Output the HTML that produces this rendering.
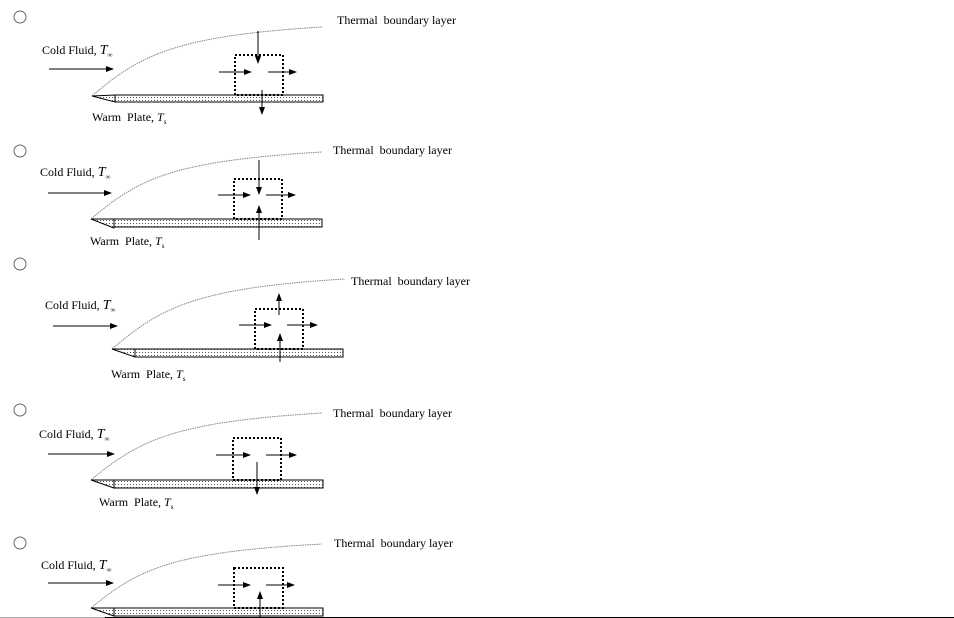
<!DOCTYPE html>
<html><head><meta charset="utf-8"><style>
html,body{margin:0;padding:0;background:#fff;}
svg{display:block;}
text{font-family:"Liberation Serif",serif;font-size:12px;fill:#000;}
</style></head><body>
<svg width="954" height="618" viewBox="0 0 954 618" xmlns="http://www.w3.org/2000/svg">
<defs>
<pattern id="dots" width="3" height="3" patternUnits="userSpaceOnUse"><rect width="3" height="3" fill="#fff"/><rect x="1" y="1" width="1" height="1" fill="#555"/></pattern>
<marker id="ah" markerWidth="8" markerHeight="8" refX="7" refY="4" orient="auto" markerUnits="userSpaceOnUse"><path d="M0,1 L8,4 L0,7 Z" fill="#000"/></marker>
</defs>
<g fill="none" stroke="#000" stroke-width="1">
<circle cx="20" cy="17" r="6" stroke="#666"/>
<circle cx="20" cy="151" r="6" stroke="#666"/>
<circle cx="20" cy="264" r="6" stroke="#666"/>
<circle cx="20" cy="410" r="6" stroke="#666"/>
<circle cx="20" cy="543" r="6" stroke="#666"/>
</g>

<!-- Diagram 1 -->
<g stroke="#000" fill="none">
<path d="M92,96 C140,55 175,36 322,27" stroke="#888" stroke-dasharray="1.5,0.8"/>
<line x1="49" y1="69" x2="113" y2="69" marker-end="url(#ah)"/>
<path d="M92,96 L115,95 L115,102 Z" fill="url(#dots)"/>
<rect x="115" y="95" width="208" height="7" fill="url(#dots)"/>
<rect x="235" y="55" width="48" height="40" stroke-dasharray="2,2" stroke-width="2"/>
<line x1="258" y1="31" x2="258" y2="63" marker-end="url(#ah)"/>
<line x1="219" y1="72" x2="251" y2="72" marker-end="url(#ah)"/>
<line x1="268" y1="72" x2="296" y2="72" marker-end="url(#ah)"/>
<line x1="262" y1="90" x2="262" y2="114" marker-end="url(#ah)"/>
</g>
<text x="337" y="24">Thermal&#160; boundary layer</text>
<text x="42" y="54">Cold Fluid, <tspan font-style="italic" font-size="14">T</tspan><tspan font-size="7" dy="3">∞</tspan></text>
<text x="92" y="121">Warm&#160; Plate, <tspan font-style="italic">T</tspan><tspan font-size="7" dy="3">s</tspan></text>

<!-- Diagram 2 -->
<g stroke="#000" fill="none">
<path d="M91,219 C139,178 174,161 322,152" stroke="#888" stroke-dasharray="1.5,0.8"/>
<line x1="48" y1="193" x2="111" y2="193" marker-end="url(#ah)"/>
<path d="M91,219 L114,219 L114,228 Z" fill="url(#dots)"/>
<rect x="114" y="219" width="208" height="8" fill="url(#dots)"/>
<rect x="234" y="179" width="48" height="40" stroke-dasharray="2,2" stroke-width="2"/>
<line x1="259" y1="160" x2="259" y2="194" marker-end="url(#ah)"/>
<line x1="218" y1="195" x2="250" y2="195" marker-end="url(#ah)"/>
<line x1="266" y1="195" x2="295" y2="195" marker-end="url(#ah)"/>
<line x1="259" y1="240" x2="259" y2="206" marker-end="url(#ah)"/>
</g>
<text x="333" y="154">Thermal&#160; boundary layer</text>
<text x="40" y="176">Cold Fluid, <tspan font-style="italic" font-size="14">T</tspan><tspan font-size="7" dy="3">∞</tspan></text>
<text x="90" y="245">Warm&#160; Plate, <tspan font-style="italic">T</tspan><tspan font-size="7" dy="3">s</tspan></text>

<!-- Diagram 3 -->
<g stroke="#000" fill="none">
<path d="M112,349 C160,308 195,288 345,279" stroke="#888" stroke-dasharray="1.5,0.8"/>
<line x1="53" y1="326" x2="117" y2="326" marker-end="url(#ah)"/>
<path d="M112,349 L135,349 L135,357 Z" fill="url(#dots)"/>
<rect x="135" y="349" width="208" height="8" fill="url(#dots)"/>
<rect x="255" y="309" width="48" height="40" stroke-dasharray="2,2" stroke-width="2"/>
<line x1="279" y1="315" x2="279" y2="294" marker-end="url(#ah)"/>
<line x1="239" y1="325" x2="271" y2="325" marker-end="url(#ah)"/>
<line x1="287" y1="325" x2="317" y2="325" marker-end="url(#ah)"/>
<line x1="280" y1="362" x2="280" y2="334" marker-end="url(#ah)"/>
</g>
<text x="351" y="285">Thermal&#160; boundary layer</text>
<text x="45" y="309">Cold Fluid, <tspan font-style="italic" font-size="14">T</tspan><tspan font-size="7" dy="3">∞</tspan></text>
<text x="111" y="378">Warm&#160; Plate, <tspan font-style="italic">T</tspan><tspan font-size="7" dy="3">s</tspan></text>

<!-- Diagram 4 -->
<g stroke="#000" fill="none">
<path d="M91,480 C139,440 174,422 322,413" stroke="#888" stroke-dasharray="1.5,0.8"/>
<line x1="48" y1="454" x2="114" y2="454" marker-end="url(#ah)"/>
<path d="M91,480 L114,480 L114,488 Z" fill="url(#dots)"/>
<rect x="114" y="480" width="209" height="8" fill="url(#dots)"/>
<rect x="233" y="438" width="48" height="42" stroke-dasharray="2,2" stroke-width="2"/>
<line x1="216" y1="455" x2="250" y2="455" marker-end="url(#ah)"/>
<line x1="266" y1="455" x2="296" y2="455" marker-end="url(#ah)"/>
<line x1="257" y1="462" x2="257" y2="494" marker-end="url(#ah)"/>
</g>
<text x="333" y="417">Thermal&#160; boundary layer</text>
<text x="39" y="438">Cold Fluid, <tspan font-style="italic" font-size="14">T</tspan><tspan font-size="7" dy="3">∞</tspan></text>
<text x="99" y="506">Warm&#160; Plate, <tspan font-style="italic">T</tspan><tspan font-size="7" dy="3">s</tspan></text>

<!-- Diagram 5 -->
<g stroke="#000" fill="none">
<path d="M91,608 C139,568 174,552 322,544" stroke="#888" stroke-dasharray="1.5,0.8"/>
<line x1="48" y1="583" x2="113" y2="583" marker-end="url(#ah)"/>
<path d="M91,608 L114,608 L114,616 Z" fill="url(#dots)"/>
<rect x="114" y="608" width="209" height="8" fill="url(#dots)"/>
<rect x="234" y="568" width="49" height="40" stroke-dasharray="2,2" stroke-width="2"/>
<line x1="218" y1="585" x2="250" y2="585" marker-end="url(#ah)"/>
<line x1="266" y1="585" x2="294" y2="585" marker-end="url(#ah)"/>
<line x1="260" y1="617" x2="260" y2="592" marker-end="url(#ah)"/>
</g>
<text x="334" y="547">Thermal&#160; boundary layer</text>
<text x="41" y="569">Cold Fluid, <tspan font-style="italic" font-size="14">T</tspan><tspan font-size="7" dy="3">∞</tspan></text>

<line x1="0" y1="617.5" x2="105" y2="617.5" stroke="#aaa"/>
<line x1="105" y1="617.5" x2="954" y2="617.5" stroke="#000"/>
</svg>
</body></html>
